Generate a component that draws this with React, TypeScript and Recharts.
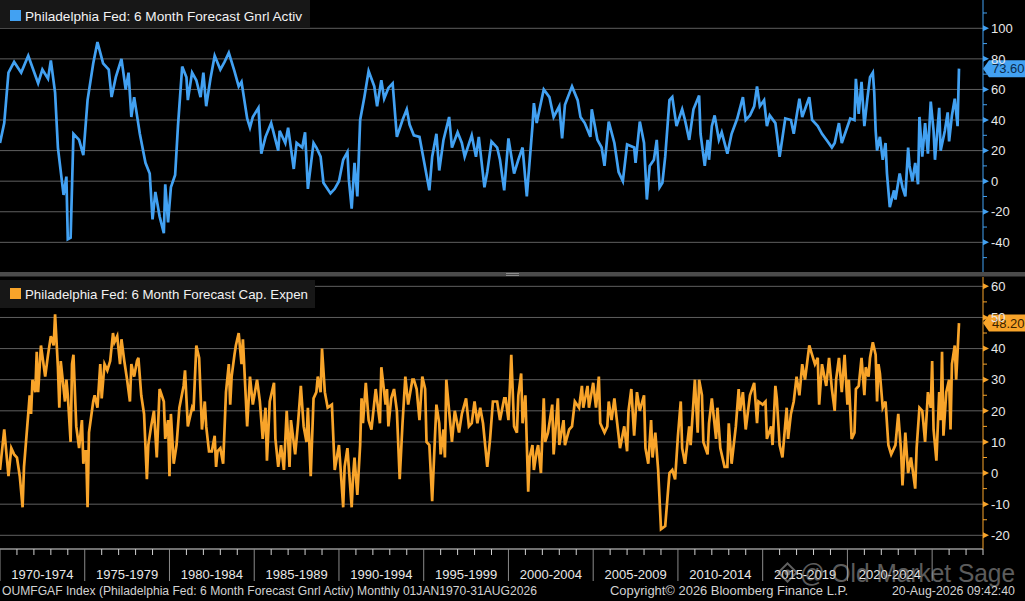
import { LineChart, Line, XAxis, YAxis, CartesianGrid, ReferenceLine } from 'recharts'

// Philadelphia Fed Business Outlook Survey, 6 month forecasts (monthly)
const gnrlActiv: [string, number][] = [
  ['1970-01', 25], ['1970-04', 38], ['1970-07', 71], ['1970-11', 78],
  ['1971-04', 71], ['1971-09', 82],
  ['1972-04', 64], ['1972-07', 73], ['1972-11', 67],
  ['1973-01', 79], ['1973-04', 58], ['1973-06', 22], ['1973-10', -9], ['1973-12', 3],
  ['1974-01', -38], ['1974-03', -37], ['1974-05', 31], ['1974-09', 27], ['1974-12', 17],
  ['1975-03', 53], ['1975-07', 77], ['1975-10', 91],
  ['1976-02', 77], ['1976-06', 73], ['1976-08', 55], ['1976-11', 68],
  ['1977-03', 80], ['1977-06', 60], ['1977-08', 71], ['1977-10', 42], ['1977-12', 55],
  ['1978-04', 31], ['1978-08', 12], ['1978-11', 5],
  ['1979-01', -25], ['1979-03', -7], ['1979-06', -23], ['1979-09', -34], ['1979-10', -2], ['1979-12', -27],
  ['1980-02', -4], ['1980-05', 4], ['1980-07', 36], ['1980-10', 75],
  ['1981-01', 68], ['1981-02', 53], ['1981-05', 71], ['1981-08', 66], ['1981-11', 55],
  ['1982-01', 71], ['1982-03', 49], ['1982-06', 67], ['1982-09', 82],
  ['1983-01', 73], ['1983-04', 78], ['1983-07', 84], ['1983-09', 78], ['1983-11', 72],
  ['1984-02', 62], ['1984-04', 65], ['1984-08', 41], ['1984-10', 35], ['1984-12', 42],
  ['1985-04', 48], ['1985-06', 18], ['1985-09', 29],
  ['1986-01', 38], ['1986-06', 20], ['1986-07', 33], ['1986-11', 25],
  ['1987-01', 35], ['1987-05', 8], ['1987-07', 25], ['1987-11', 22],
  ['1988-01', 32], ['1988-03', -5], ['1988-07', 25], ['1988-09', 22], ['1988-12', 16],
  ['1989-02', -1], ['1989-07', -8], ['1989-10', -5],
  ['1990-01', 0], ['1990-04', 14], ['1990-07', 19], ['1990-08', 1], ['1990-10', -18], ['1990-12', 12],
  ['1991-02', -10], ['1991-04', 40], ['1991-07', 55], ['1991-10', 72],
  ['1992-02', 62], ['1992-04', 49], ['1992-07', 66], ['1992-09', 54], ['1992-12', 61],
  ['1993-03', 64], ['1993-06', 29], ['1993-10', 40],
  ['1994-01', 47], ['1994-03', 37], ['1994-06', 30], ['1994-10', 29],
  ['1995-01', 14], ['1995-05', -6], ['1995-07', 16], ['1995-10', 31], ['1995-12', 7],
  ['1996-03', 27], ['1996-07', 42], ['1996-09', 22],
  ['1997-01', 32], ['1997-04', 25], ['1997-06', 16], ['1997-11', 30],
  ['1998-02', 16], ['1998-04', 29], ['1998-08', -4], ['1998-10', 6],
  ['1999-01', 26], ['1999-05', 22], ['1999-07', 14], ['1999-10', -6],
  ['2000-01', 28], ['2000-05', 5], ['2000-08', 14], ['2000-11', 22],
  ['2001-02', -10], ['2001-06', 36], ['2001-07', 51], ['2001-09', 38], ['2001-11', 47],
  ['2002-02', 60], ['2002-06', 55], ['2002-09', 42],
  ['2003-01', 49], ['2003-03', 28], ['2003-05', 50], ['2003-10', 62],
  ['2004-02', 53], ['2004-04', 42], ['2004-07', 38], ['2004-11', 29], ['2004-12', 47],
  ['2005-04', 27], ['2005-07', 22], ['2005-09', 10], ['2005-12', 39],
  ['2006-04', 25], ['2006-07', 6], ['2006-10', 0],
  ['2007-01', 24], ['2007-06', 22], ['2007-07', 12], ['2007-10', 39],
  ['2008-01', 25], ['2008-03', -12], ['2008-05', 10], ['2008-08', 14], ['2008-10', 27], ['2008-12', -4],
  ['2009-02', -1], ['2009-04', 16], ['2009-07', 53], ['2009-09', 55], ['2009-12', 36],
  ['2010-04', 47], ['2010-06', 40], ['2010-09', 27], ['2010-12', 47],
  ['2011-04', 56], ['2011-05', 31], ['2011-08', 10], ['2011-10', 27], ['2011-11', 14],
  ['2012-01', 36], ['2012-03', 43], ['2012-06', 27], ['2012-08', 32], ['2012-12', 18],
  ['2013-03', 31], ['2013-07', 41], ['2013-11', 55],
  ['2014-01', 40], ['2014-04', 43], ['2014-07', 49], ['2014-09', 62], ['2014-11', 49],
  ['2015-02', 53], ['2015-04', 36], ['2015-06', 43], ['2015-10', 38], ['2015-11', 31],
  ['2016-01', 16], ['2016-05', 41], ['2016-09', 40], ['2016-11', 31],
  ['2017-03', 54], ['2017-05', 42], ['2017-10', 55], ['2017-12', 40],
  ['2018-04', 36], ['2018-07', 31], ['2018-11', 26],
  ['2019-02', 22], ['2019-04', 25], ['2019-07', 38], ['2019-09', 25], ['2019-12', 33],
  ['2020-03', 41], ['2020-06', 40], ['2020-07', 67], ['2020-09', 44], ['2020-11', 65],
  ['2021-01', 36], ['2021-03', 53], ['2021-05', 68], ['2021-07', 71], ['2021-08', 58], ['2021-09', 33], ['2021-10', 20], ['2021-12', 29],
  ['2022-02', 14], ['2022-04', 25], ['2022-05', 5], ['2022-07', -17], ['2022-10', -6], ['2022-11', -12],
  ['2023-02', 5], ['2023-04', -4], ['2023-06', -10], ['2023-08', 22], ['2023-09', 10], ['2023-11', 0],
  ['2024-01', 12], ['2024-03', -2], ['2024-04', 42], ['2024-06', 16], ['2024-08', 38], ['2024-10', 18], ['2024-12', 52],
  ['2025-02', 33], ['2025-03', 14], ['2025-06', 48], ['2025-07', 20], ['2025-10', 33], ['2025-12', 45],
  ['2026-01', 26], ['2026-03', 43], ['2026-05', 54], ['2026-07', 36], ['2026-08', 73.6],
]

const capExpen: [string, number][] = [
  ['1970-01', 1], ['1970-04', 14], ['1970-07', -1], ['1970-09', 8], ['1970-11', 6],
  ['1971-01', 5], ['1971-03', -1], ['1971-05', -11], ['1971-06', 2], ['1971-09', 19], ['1971-10', 25], ['1971-11', 19], ['1971-12', 30],
  ['1972-02', 26], ['1972-03', 39], ['1972-04', 26], ['1972-06', 41], ['1972-09', 31], ['1972-11', 38],
  ['1973-01', 44], ['1973-03', 41], ['1973-04', 51], ['1973-06', 34], ['1973-07', 21], ['1973-08', 36], ['1973-11', 23], ['1973-12', 30],
  ['1974-01', 25], ['1974-03', 10], ['1974-04', 35], ['1974-05', 38], ['1974-07', 15], ['1974-09', 8], ['1974-11', 17], ['1974-12', 3],
  ['1975-01', 7], ['1975-02', 7], ['1975-03', -11], ['1975-04', 13], ['1975-07', 23], ['1975-08', 25], ['1975-10', 21], ['1975-12', 35],
  ['1976-01', 24], ['1976-03', 35], ['1976-05', 33], ['1976-07', 36], ['1976-09', 45], ['1976-10', 42], ['1976-12', 44],
  ['1977-02', 35], ['1977-03', 43], ['1977-05', 36], ['1977-07', 30], ['1977-09', 23], ['1977-10', 35], ['1977-12', 31],
  ['1978-02', 36], ['1978-03', 37], ['1978-05', 25], ['1978-07', 19], ['1978-09', -2], ['1978-10', 9], ['1978-12', 15],
  ['1979-02', 20], ['1979-04', 5], ['1979-06', 27], ['1979-09', 23], ['1979-10', 11], ['1979-12', 17],
  ['1980-01', -1], ['1980-02', 19], ['1980-04', 3], ['1980-06', 9], ['1980-08', 21], ['1980-11', 28], ['1980-12', 33],
  ['1981-02', 15], ['1981-05', 21], ['1981-06', 20], ['1981-08', 41], ['1981-10', 37], ['1981-12', 14],
  ['1982-02', 23], ['1982-03', 15], ['1982-05', 7], ['1982-07', 7], ['1982-09', 12], ['1982-10', 2], ['1982-11', 7],
  ['1983-01', 8], ['1983-03', 3], ['1983-05', 26], ['1983-07', 35], ['1983-08', 22], ['1983-09', 31], ['1983-11', 38], ['1983-12', 41],
  ['1984-02', 45], ['1984-04', 35], ['1984-05', 43], ['1984-08', 15], ['1984-10', 31], ['1984-12', 22],
  ['1985-03', 30], ['1985-05', 23], ['1985-07', 11], ['1985-09', 21], ['1985-10', 4], ['1985-12', 23],
  ['1986-03', 29], ['1986-04', 11], ['1986-06', 2], ['1986-08', 9], ['1986-10', 1], ['1986-12', 20],
  ['1987-02', 2], ['1987-03', 17], ['1987-06', 6], ['1987-08', 16], ['1987-10', 28], ['1987-12', 15],
  ['1988-02', 10], ['1988-03', 21], ['1988-05', -1], ['1988-07', 24], ['1988-09', 26], ['1988-10', 31], ['1988-12', 26],
  ['1989-01', 40], ['1989-03', 26], ['1989-05', 21], ['1989-08', 22], ['1989-10', 1],
  ['1990-01', 9], ['1990-04', -11], ['1990-05', 2], ['1990-07', 8], ['1990-10', -11], ['1990-11', -1], ['1990-12', 5],
  ['1991-02', -7], ['1991-04', 9], ['1991-05', 24], ['1991-06', 16], ['1991-08', 29], ['1991-10', 17], ['1991-12', 14],
  ['1992-03', 27], ['1992-06', 16], ['1992-07', 34], ['1992-10', 22], ['1992-11', 27], ['1992-12', 15],
  ['1993-02', 24], ['1993-04', 27], ['1993-06', 20], ['1993-08', -2], ['1993-10', 16], ['1993-12', 31],
  ['1994-02', 22], ['1994-05', 30], ['1994-06', 30], ['1994-08', 27], ['1994-10', 17], ['1994-12', 31],
  ['1995-02', 27], ['1995-03', 10], ['1995-05', 9], ['1995-07', -9], ['1995-09', 12], ['1995-10', 22], ['1995-12', 16],
  ['1996-01', 6], ['1996-03', 14], ['1996-04', 5], ['1996-05', 30], ['1996-07', 20], ['1996-09', 10], ['1996-11', 20],
  ['1997-02', 13], ['1997-04', 19], ['1997-07', 24], ['1997-09', 15], ['1997-11', 16],
  ['1998-01', 23], ['1998-03', 16], ['1998-05', 21], ['1998-07', 16], ['1998-10', 2], ['1998-12', 11],
  ['1999-02', 23], ['1999-05', 23], ['1999-07', 17], ['1999-10', 24], ['1999-11', 24],
  ['2000-01', 17], ['2000-03', 38], ['2000-05', 15], ['2000-07', 13], ['2000-08', 25], ['2000-10', 32], ['2000-11', 16],
  ['2001-01', 25], ['2001-03', -6], ['2001-04', 5], ['2001-06', 9], ['2001-07', 1], ['2001-09', 7], ['2001-10', 9], ['2001-12', 0],
  ['2002-02', 24], ['2002-03', 10], ['2002-05', 13], ['2002-08', 22], ['2002-09', 6], ['2002-12', 24],
  ['2003-01', 9], ['2003-04', 17], ['2003-05', 9], ['2003-08', 14], ['2003-10', 15], ['2003-12', 23],
  ['2004-03', 21], ['2004-05', 28], ['2004-06', 21], ['2004-09', 28], ['2004-10', 21],
  ['2005-01', 29], ['2005-03', 21], ['2005-05', 31], ['2005-06', 16], ['2005-09', 13], ['2005-11', 15], ['2005-12', 23],
  ['2006-02', 17], ['2006-04', 24], ['2006-06', 16], ['2006-08', 8], ['2006-11', 15],
  ['2007-01', 7], ['2007-02', 20], ['2007-04', 27], ['2007-06', 12], ['2007-08', 26], ['2007-10', 20],
  ['2008-01', 25], ['2008-02', 8], ['2008-04', 3], ['2008-06', 17], ['2008-07', 5], ['2008-09', 13], ['2008-11', 1],
  ['2009-01', -18], ['2009-04', -17], ['2009-07', 0], ['2009-09', 1], ['2009-11', -2],
  ['2010-01', 12], ['2010-03', 23], ['2010-04', 8], ['2010-06', 3], ['2010-09', 15], ['2010-10', 9], ['2010-12', 23],
  ['2011-01', 30], ['2011-03', 13], ['2011-04', 30], ['2011-06', 25], ['2011-07', 10], ['2011-10', 6], ['2011-11', 16],
  ['2012-01', 24], ['2012-04', 11], ['2012-05', 21], ['2012-07', 8], ['2012-10', 2], ['2012-12', 2],
  ['2013-01', 16], ['2013-03', 3], ['2013-06', 15], ['2013-08', 27], ['2013-09', 20], ['2013-11', 26],
  ['2014-01', 14], ['2014-04', 25], ['2014-07', 29], ['2014-09', 16], ['2014-10', 23],
  ['2015-01', 22], ['2015-03', 23], ['2015-04', 11], ['2015-07', 15], ['2015-08', 9], ['2015-10', 28], ['2015-11', 24],
  ['2016-01', 9], ['2016-03', 5], ['2016-06', 21], ['2016-07', 11], ['2016-09', 19], ['2016-11', 23],
  ['2017-01', 31], ['2017-03', 25], ['2017-05', 35], ['2017-07', 30], ['2017-10', 41], ['2017-12', 38],
  ['2018-02', 35], ['2018-04', 37], ['2018-05', 22], ['2018-07', 35], ['2018-10', 28], ['2018-12', 37],
  ['2019-02', 27], ['2019-04', 20], ['2019-05', 30], ['2019-07', 37], ['2019-09', 26], ['2019-11', 38],
  ['2020-01', 22], ['2020-02', 30], ['2020-04', 11], ['2020-06', 13], ['2020-07', 27], ['2020-09', 28], ['2020-11', 37],
  ['2021-01', 25], ['2021-02', 34], ['2021-04', 31], ['2021-05', 37], ['2021-07', 42], ['2021-09', 38], ['2021-10', 23], ['2021-11', 35], ['2021-12', 32],
  ['2022-02', 21], ['2022-04', 23], ['2022-06', 9], ['2022-08', 6], ['2022-11', 9],
  ['2023-01', 19], ['2023-03', 7], ['2023-04', -4], ['2023-06', 13], ['2023-08', 0], ['2023-10', 5],
  ['2024-01', -5], ['2024-02', 8], ['2024-04', 21], ['2024-06', 20], ['2024-08', 10], ['2024-10', 26], ['2024-12', 21],
  ['2025-01', 36], ['2025-02', 14], ['2025-04', 4], ['2025-06', 26], ['2025-07', 17], ['2025-08', 39], ['2025-09', 12], ['2025-11', 26],
  ['2026-01', 30], ['2026-02', 14], ['2026-03', 35], ['2026-05', 41], ['2026-06', 30], ['2026-08', 48.2],
]

const periodLabels = [
  '1970-1974', '1975-1979', '1980-1984', '1985-1989', '1990-1994', '1995-1999',
  '2000-2004', '2005-2009', '2010-2014', '2015-2019', '2020-2024',
]

const gnrlGrid = [-40, -20, 0, 20, 40, 60, 80, 100]
const gnrlTicks = [-50, -40, -30, -20, -10, 0, 10, 20, 30, 40, 50, 60, 70, 80, 90, 100, 110]
const capGrid = [-20, -10, 0, 10, 20, 30, 40, 50, 60]
const capTicks = [-20, -15, -10, -5, 0, 5, 10, 15, 20, 25, 30, 35, 40, 45, 50, 55, 60]

const BLUE = '#42a1f2'
const ORANGE = '#f8a42a'
const GRID = '#5f5f5f'
const FONT = '"Liberation Sans", Arial, sans-serif'

const W = 1025
const AXIS_W = 42
const X_DOMAIN: [number, number] = [1970, 2028]
const PX_PER_YEAR = (W - AXIS_W) / (X_DOMAIN[1] - X_DOMAIN[0])
const yearTicks = Array.from({ length: X_DOMAIN[1] - X_DOMAIN[0] + 1 }, (_, i) => X_DOMAIN[0] + i)

const toYear = (d: string) => {
  const [y, m] = d.split('-').map(Number)
  return y + (m - 1) / 12
}
const toRows = (s: [string, number][]) => s.map(([d, v]) => ({ t: toYear(d), v }))

const gnrlRows = toRows(gnrlActiv)
const capRows = toRows(capExpen)

function makeYTick(color: string, labelEvery: number) {
  return function YTick(props: any) {
    const { x, y, payload } = props
    const v = payload.value as number
    if (v % labelEvery !== 0) {
      return <line x1={x} x2={x + 4} y1={y} y2={y} stroke={color} strokeWidth={1} />
    }
    return (
      <g>
        <polygon points={`${x},${y - 3} ${x + 6},${y} ${x},${y + 3}`} fill={color} />
        <text x={x + 8} y={y} dy="0.36em" fill="#e8e8e8" fontSize={13} fontFamily={FONT}>
          {v}
        </text>
      </g>
    )
  }
}

function XTick(props: any) {
  const { x, y, payload } = props
  const year = payload.value as number
  if (year % 5 !== 0) {
    return <line x1={x} x2={x} y1={y} y2={y + 6} stroke="#d0d0d0" />
  }
  const label = periodLabels.find((p) => Number(p.slice(0, 4)) === year)
  return (
    <g>
      <line x1={x} x2={x} y1={y} y2={y + 32} stroke="#8a8a8a" />
      {label && (
        <text x={x + 2.5 * PX_PER_YEAR} y={y + 30} textAnchor="middle" fill="#e8e8e8" fontSize={13} fontFamily={FONT}>
          {label}
        </text>
      )}
    </g>
  )
}

function valueTag(color: string, textColor: string, text: string) {
  return (props: any) => {
    const vb = props.viewBox
    if (!vb) return null
    const x = vb.x + vb.width
    const y = vb.y
    return (
      <g>
        <polygon
          points={`${x},${y} ${x + 6},${y - 8.5} ${W},${y - 8.5} ${W},${y + 8.5} ${x + 6},${y + 8.5}`}
          fill={color}
        />
        <text x={x + 9} y={y} dy="0.36em" fill={textColor} fontSize={13} fontFamily={FONT}>
          {text}
        </text>
      </g>
    )
  }
}

const gnrlLast = gnrlActiv[gnrlActiv.length - 1][1]
const capLast = capExpen[capExpen.length - 1][1]

export default function App() {
  return (
    <div
      style={{
        position: 'absolute',
        left: 0,
        top: 0,
        width: W,
        height: 601,
        background: '#000',
        overflow: 'hidden',
        fontFamily: FONT,
      }}
    >
      <div style={{ position: 'absolute', left: 0, top: 0 }}>
        <LineChart width={W} height={272} data={gnrlRows} margin={{ top: 0, right: 0, bottom: 0, left: 0 }}>
          <CartesianGrid vertical={false} horizontalValues={gnrlGrid} stroke={GRID} />
          <XAxis type="number" dataKey="t" domain={X_DOMAIN} hide />
          <YAxis
            orientation="right"
            width={AXIS_W}
            domain={[-59.4, 118.5]}
            ticks={gnrlTicks}
            interval={0}
            tickSize={0}
            tickMargin={0}
            tickLine={false}
            axisLine={{ stroke: BLUE }}
            tick={makeYTick(BLUE, 20)}
          />
          <Line
            type="linear"
            dataKey="v"
            stroke={BLUE}
            strokeWidth={2.7}
            dot={false}
            activeDot={false}
            isAnimationActive={false}
          />
          <ReferenceLine y={gnrlLast} stroke="none" label={valueTag(BLUE, '#0b2c4d', gnrlLast.toFixed(2))} />
        </LineChart>
      </div>

      <div style={{ position: 'absolute', left: 0, top: 277 }}>
        <LineChart width={W} height={324} data={capRows} margin={{ top: 0, right: 0, bottom: 0, left: 0 }}>
          <CartesianGrid vertical={false} horizontalValues={capGrid} stroke={GRID} />
          <XAxis
            type="number"
            dataKey="t"
            domain={X_DOMAIN}
            ticks={yearTicks}
            interval={0}
            height={52}
            tickSize={0}
            tickMargin={0}
            tickLine={false}
            axisLine={{ stroke: '#e0e0e0' }}
            tick={XTick}
          />
          <YAxis
            orientation="right"
            width={AXIS_W}
            domain={[-24.4, 63]}
            ticks={capTicks}
            interval={0}
            tickSize={0}
            tickMargin={0}
            tickLine={false}
            axisLine={{ stroke: ORANGE }}
            tick={makeYTick(ORANGE, 10)}
          />
          <Line
            type="linear"
            dataKey="v"
            stroke={ORANGE}
            strokeWidth={2.7}
            dot={false}
            activeDot={false}
            isAnimationActive={false}
          />
          <ReferenceLine y={capLast} stroke="none" label={valueTag(ORANGE, '#3a2300', capLast.toFixed(2))} />
        </LineChart>
      </div>

      <svg width={W} height={601} style={{ position: 'absolute', left: 0, top: 0, pointerEvents: 'none' }}>
        {/* legends */}
        <rect x={0} y={0} width={310} height={28} fill="#171717" />
        <rect x={10} y={10} width={11} height={11} fill={BLUE} />
        <text x={25} y={21} fontSize={13} fill="#f2f2f2" textLength={277} lengthAdjust="spacingAndGlyphs">
          Philadelphia Fed: 6 Month Forecast Gnrl Activ
        </text>
        <rect x={0} y={280} width={315} height={28} fill="#171717" />
        <rect x={10} y={288} width={11} height={11} fill={ORANGE} />
        <text x={25} y={299} fontSize={13} fill="#f2f2f2" textLength={283} lengthAdjust="spacingAndGlyphs">
          Philadelphia Fed: 6 Month Forecast Cap. Expen
        </text>

        {/* panel divider */}
        <rect x={0} y={272} width={W} height={4.5} fill="#4b4b4b" />
        <rect x={506} y={273} width={13} height={1} fill="#8c8c8c" />
        <rect x={506} y={275} width={13} height={1} fill="#8c8c8c" />

        {/* watermark */}
        <g opacity={0.55}>
          <rect x={781} y={566} width={13} height={13} transform="rotate(45 787.5 572.5)" fill="none" stroke="#b0b0b0" strokeWidth={2} />
          <circle cx={787.5} cy={572.5} r={3} fill="#b0b0b0" />
          <text x={800} y={582} fontSize={26} fill="#a8a8a8" textLength={215} lengthAdjust="spacingAndGlyphs">
            @ Old Market Sage
          </text>
        </g>

        {/* footer */}
        <text x={2} y={595} fontSize={12} fill="#d2d2d2" textLength={535} lengthAdjust="spacingAndGlyphs">
          OUMFGAF Index (Philadelphia Fed: 6 Month Forecast Gnrl Activ) Monthly 01JAN1970-31AUG2026
        </text>
        <text x={610} y={595} fontSize={12} fill="#d2d2d2" textLength={238} lengthAdjust="spacingAndGlyphs">
          Copyright© 2026 Bloomberg Finance L.P.
        </text>
        <text x={892} y={595} fontSize={12} fill="#d2d2d2" textLength={123} lengthAdjust="spacingAndGlyphs">
          20-Aug-2026 09:42:40
        </text>
      </svg>
    </div>
  )
}
